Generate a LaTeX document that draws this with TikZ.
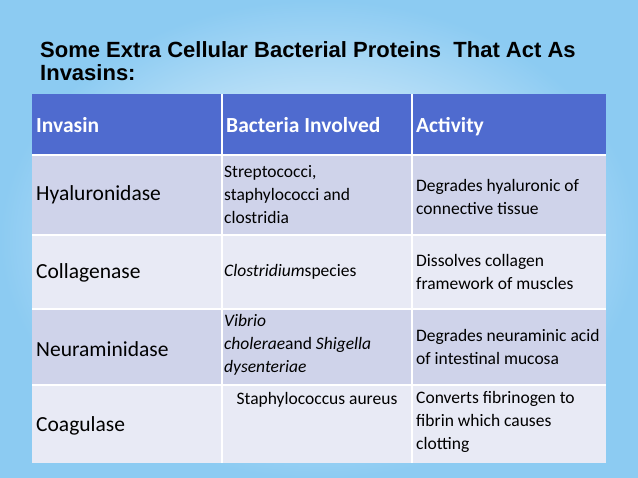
\documentclass[tikz,border=0pt]{standalone}
\usepackage{fontspec}
\setmainfont{Carlito}
\newfontfamily\titlefont{Liberation Sans}
\begin{document}
\begin{tikzpicture}[x=1pt,y=-1pt,
  cell/.style={anchor=west,align=left,font=\fontsize{17.5}{23}\selectfont,text=black,inner sep=0pt},
  big/.style={anchor=west,font=\fontsize{21.5}{22}\selectfont,text=black,inner sep=0pt},
  head/.style={anchor=base west,font=\bfseries\fontsize{21.5}{22}\selectfont,text=white,inner sep=0pt}]
\useasboundingbox (0,0) rectangle (638,478);
\definecolor{bgb}{HTML}{8CCBF2}
\shade[inner color=white,outer color=bgb] (0,0) rectangle (638,478);
\node[anchor=north west,align=left,inner sep=0pt,font=\titlefont\bfseries\fontsize{22}{23}\selectfont] (title) at (40,41)
 {Some Extra Cellular Bacterial Proteins\ \ That Act As\\Invasins:};
\definecolor{hd}{HTML}{4F6BCF}
\definecolor{ra}{HTML}{CFD3EA}
\definecolor{rb}{HTML}{E8EAF5}
\fill[hd] (32,94) rectangle (606,155);
\fill[ra] (32,155) rectangle (606,235);
\fill[rb] (32,235) rectangle (606,309);
\fill[ra] (32,309) rectangle (606,385);
\fill[rb] (32,385) rectangle (606,463);
\draw[white,line width=1.5pt] (32,155)--(606,155) (32,235)--(606,235) (32,309)--(606,309) (32,385)--(606,385)
 (222,94)--(222,463) (412,94)--(412,463);
\node[head] (h1) at (36,133) {Invasin};
\node[head] (h2) at (226,133) {Bacteria Involved};
\node[head] (h3) at (416,133) {Activity};
\node[big] (a1) at (36,195) {Hyaluronidase};
\node[cell] (b1) at (224,195) {Streptococci,\\staphylococci and\\clostridia};
\node[cell] (c1) at (416,197) {Degrades hyaluronic of\\connective tissue};
\node[big] (a2) at (36,273) {Collagenase};
\node[cell] (b2) at (224,272) {\textit{Clostridium}species};
\node[cell] (c2) at (416,272) {Dissolves collagen\\framework of muscles};
\node[big] (a3) at (36,349) {Neuraminidase};
\node[cell] (b3) at (224,345) {\textit{Vibrio}\\\textit{cholerae}and \textit{Shigella}\\\textit{dysenteriae}};
\node[cell] (c3) at (416,347) {Degrades neuraminic acid\\of intestinal mucosa};
\node[big] (a4) at (36,426) {Coagulase};
\node[cell,anchor=north] (b4) at (317,392) {Staphylococcus aureus};
\node[cell,anchor=north west] (c4) at (416,391) {Converts fibrinogen to\\fibrin which causes\\clotting};
\end{tikzpicture}
\end{document}
